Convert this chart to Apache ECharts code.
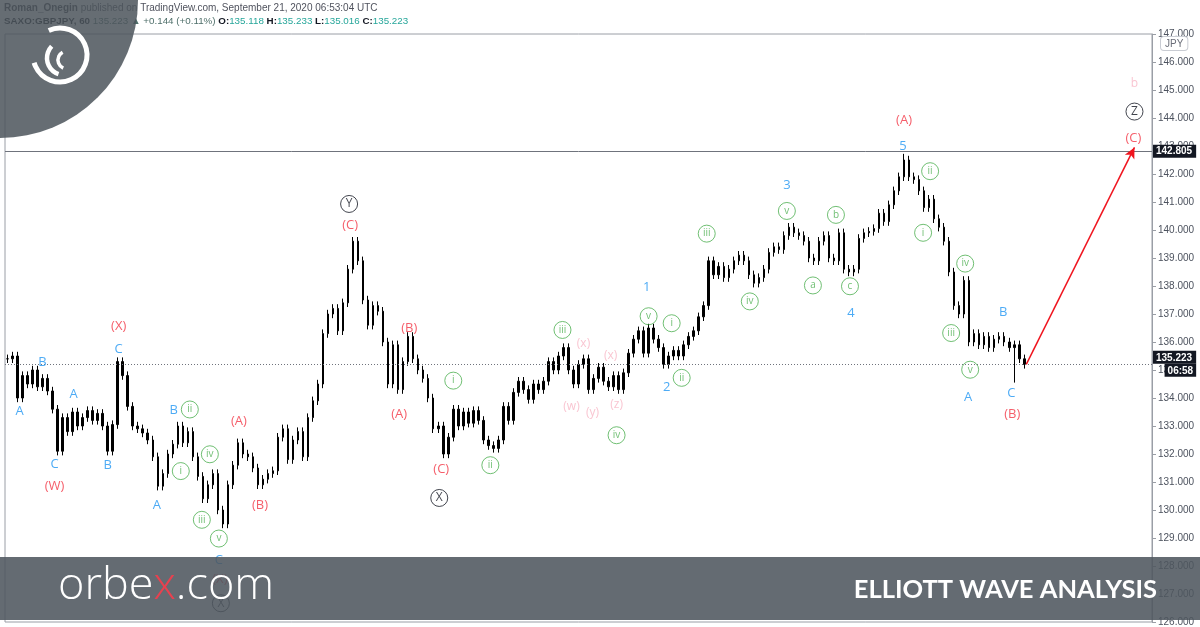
<!DOCTYPE html>
<html>
<head>
<meta charset="utf-8">
<script src="https://cdn.jsdelivr.net/npm/echarts@6/dist/echarts.min.js"></script>
<style>
  html, body { margin: 0; padding: 0; background: #fff; }
  #chart { width: 1200px; height: 627px; }
</style>
</head>
<body>
<div id="chart"></div>
<script>
/* ── Data (GBPJPY 60m, closes) ──────────────────────────── */
const closes = [
  135.4, 135.5, 134.0, 134.8, 134.5, 135.0, 134.4, 134.7, 134.25, 133.6,
  132.1, 133.3, 132.8, 133.5, 133.0, 133.3, 133.55, 133.2, 133.45, 133.0,
  132.1, 133.05, 135.3, 134.8, 133.7, 133.0, 132.9, 132.75, 132.5, 131.9,
  130.85, 131.3, 132.0, 132.35, 133.0, 132.4, 132.8, 131.9, 131.2, 130.4,
  130.9, 131.3, 130.0, 129.5, 130.9, 131.6, 132.4, 132.0, 131.9, 131.5,
  130.9, 131.1, 131.3, 131.4, 132.6, 132.9, 131.8, 132.5, 132.8, 131.9,
  133.3, 133.9, 134.5, 136.3, 137.0, 137.2, 136.4, 137.4, 138.6, 139.6,
  138.9, 137.5, 136.6, 137.3, 137.1, 136.0, 134.5, 135.9, 134.3, 135.3,
  136.2, 135.4, 135.0, 134.7, 134.0, 132.9, 133.0, 132.0, 132.6, 133.6,
  133.0, 133.5, 133.1, 133.55, 133.2, 132.5, 132.3, 132.2, 132.5, 133.7,
  133.2, 134.2, 134.6, 134.3, 133.95, 134.5, 134.3, 134.6, 135.3, 135.0,
  135.5, 135.8, 135.0, 134.5, 135.2, 135.4, 134.3, 134.7, 135.1, 134.6,
  134.4, 134.8, 134.3, 134.9, 135.6, 136.1, 136.4, 135.6, 136.5, 136.1,
  135.8, 135.2, 135.5, 135.7, 135.5, 135.9, 136.2, 136.4, 136.9, 137.3,
  138.9, 138.4, 138.7, 138.3, 138.6, 138.9, 139.1, 138.9, 138.4, 138.1,
  138.3, 138.6, 139.2, 139.4, 139.3, 139.8, 140.1, 139.9, 139.8, 139.6,
  139.0, 138.9, 139.6, 139.8, 139.0, 138.9, 139.9, 138.6, 138.5, 138.6,
  139.7, 139.9, 139.95, 140.05, 140.6, 140.3, 140.9, 141.4, 141.9, 142.5,
  141.9, 141.8, 141.4, 140.8, 141.1, 140.4, 140.1, 139.6, 138.5, 137.3,
  137.0, 138.2, 136.0, 136.3, 135.9, 136.2, 135.8, 136.1, 136.2, 136.0,
  135.8, 135.9, 135.4, 135.2
];
// long wicks that stick out of the close path
const spikeLows = { 43: 129.35, 201: 134.55 };
const spikeHighs = { 179: 142.72 };

const slotCount = 229;           // candles + empty room on the right
const yMin = 126, yMax = 147;
const resistance = 142.805;
const lastPrice = 135.223;

// wave labels: [slot, price, text]
const redLabels = [
  [9.4, 130.86, '(W)'], [22.2, 136.57, '(X)'], [42.4, 127.52, '(X)'],
  [46.2, 133.16, '(A)'], [50.4, 130.18, '(B)'], [68.4, 140.18, '(C)'],
  [78.2, 133.41, '(A)'], [80.2, 136.50, '(B)'], [86.6, 131.46, '(C)'],
  [179, 143.91, '(A)'], [200.6, 133.41, '(B)'], [224.8, 143.27, '(C)']
];
const blueLabels = [
  [2.4, 133.52, 'A'], [7.0, 135.26, 'B'], [9.4, 131.64, 'C'],
  [13.2, 134.12, 'A'], [20, 131.60, 'B'], [22.2, 135.75, 'C'],
  [29.8, 130.18, 'A'], [33.2, 133.55, 'B'], [42.2, 128.2, 'C'],
  [127.6, 137.95, '1'], [131.6, 134.37, '2'], [155.6, 141.60, '3'],
  [168.4, 137.03, '4'], [178.8, 142.99, '5'],
  [191.8, 134.01, 'A'], [198.8, 137.06, 'B'], [200.4, 134.16, 'C']
];
const pinkLabels = [
  [115, 135.93, '(x)'], [120.4, 135.50, '(x)'], [112.6, 133.70, '(w)'],
  [116.8, 133.48, '(y)'], [121.6, 133.77, '(z)'], [225, 145.22, 'b']
];
const greenLabels = [
  [34.6, 131.39, 'i'], [36.4, 133.59, 'ii'], [38.8, 129.65, 'iii'],
  [40.4, 131.99, 'iv'], [42.2, 128.98, 'v'],
  [89, 134.62, 'i'], [96.4, 131.60, 'ii'], [110.8, 136.43, 'iii'],
  [121.6, 132.67, 'iv'], [128, 136.92, 'v'],
  [132.6, 136.67, 'i'], [134.6, 134.72, 'ii'], [139.6, 139.87, 'iii'],
  [148.2, 137.45, 'iv'], [155.6, 140.68, 'v'],
  [160.8, 138.02, 'a'], [165.4, 140.54, 'b'], [168.2, 137.99, 'c'],
  [182.8, 139.90, 'i'], [184.2, 142.10, 'ii'], [188.4, 136.32, 'iii'],
  [191.2, 138.80, 'iv'], [192.2, 135.01, 'v']
];
const blackLabels = [
  [42.6, 126.67, 'X'], [68.2, 140.93, 'Y'], [86.2, 130.43, 'X'], [225, 144.23, 'Z']
];
// projected move: from the last candle to the (C) target
const arrowFrom = [203.4, 135.2];
const arrowTo = [225, 142.95];

/* ── Build ───────────────────────────────────────────────── */
const ohlc = closes.map((c, i) => {
  const o = i === 0 ? c : closes[i - 1];
  const lo = spikeLows[i] !== undefined ? spikeLows[i] : Math.min(o, c) - 0.15;
  const hi = spikeHighs[i] !== undefined ? spikeHighs[i] : Math.max(o, c) + 0.15;
  return [o, c, lo, hi];
});
const slots = Array.from({ length: slotCount }, (_, i) => String(i));

const FONT = '"Open Sans", "Noto Sans", sans-serif';
const UI_FONT = '"Liberation Sans", Arial, sans-serif';

function textSeries(list, color, size) {
  return {
    type: 'scatter', xAxisIndex: 1, symbolSize: 1, silent: true, z: 5,
    itemStyle: { color: 'transparent' },
    label: { show: true, position: 'inside', formatter: p => p.data[2],
      color, fontSize: size, fontFamily: FONT },
    data: list
  };
}
function circleSeries(list, color, size, fontSize) {
  return {
    type: 'scatter', xAxisIndex: 1, symbol: 'circle', symbolSize: size, silent: true, z: 5,
    itemStyle: { color: 'rgba(255,255,255,0)', borderColor: color, borderWidth: 1 },
    label: { show: true, position: 'inside', formatter: p => p.data[2],
      color, fontSize, fontFamily: FONT },
    data: list
  };
}

const chart = echarts.init(document.getElementById('chart'), null, { renderer: 'canvas' });

chart.setOption({
  animation: false,
  backgroundColor: '#fff',
  grid: { left: 5, right: 48, top: 34, bottom: 1, show: true,
    borderColor: '#9a9ea6', borderWidth: 1, backgroundColor: 'transparent' },
  xAxis: [
    { type: 'category', data: slots, boundaryGap: true, show: false },
    { type: 'value', min: -0.5, max: slotCount - 0.5, show: false }
  ],
  yAxis: {
    type: 'value', position: 'right', min: yMin, max: yMax, interval: 1,
    splitLine: { show: false },
    axisLine: { show: true, onZero: false, lineStyle: { color: '#9a9ea6' } },
    axisTick: { show: true, length: 4, lineStyle: { color: '#9a9ea6' } },
    axisLabel: {
      color: '#4c525e', fontSize: 10, fontFamily: UI_FONT, margin: 6,
      formatter: v => v.toFixed(3)
    }
  },
  series: [
    {
      type: 'candlestick', data: ohlc, barWidth: 2, silent: true,
      itemStyle: { color: '#000', color0: '#000', borderColor: '#000', borderColor0: '#000', borderWidth: 1 },
      markLine: {
        silent: true, symbol: 'none', animation: false,
        data: [
          { yAxis: resistance, lineStyle: { color: '#6f737c', width: 1, type: 'solid' },
            label: { show: true, position: 'end', distance: 1, formatter: resistance.toFixed(3),
              backgroundColor: '#131722', color: '#fff', fontSize: 10, fontWeight: 'bold',
              padding: [2, 4, 1, 3], fontFamily: UI_FONT } },
          { yAxis: lastPrice, lineStyle: { color: '#6f737c', width: 1, type: [1, 2] },
            label: { show: true, position: 'end', distance: 1,
              formatter: '{a|' + lastPrice.toFixed(3) + '}\n{b|06:58}',
              rich: {
                a: { backgroundColor: '#131722', color: '#fff', fontSize: 10, fontWeight: 'bold',
                  padding: [2, 4, 1, 3], fontFamily: UI_FONT },
                b: { backgroundColor: '#131722', color: '#fff', fontSize: 10, fontWeight: 'bold',
                  padding: [2, 3, 1, 3], align: 'right', fontFamily: UI_FONT }
              } } }
        ]
      }
    },
    {
      type: 'line', xAxisIndex: 1, data: [], silent: true,
      markLine: {
        silent: true, symbol: ['none', 'arrow'], symbolSize: [8, 11], animation: false,
        lineStyle: { color: '#f0141e', width: 1.5, type: 'solid' },
        label: { show: false },
        data: [[{ coord: arrowFrom }, { coord: arrowTo }]]
      }
    },
    textSeries(redLabels, '#f23645', 13),
    textSeries(blueLabels, '#2196f3', 13),
    textSeries(pinkLabels, '#f8b7c6', 12),
    circleSeries(greenLabels, '#4caf50', 17, 10),
    circleSeries(blackLabels, '#131722', 17, 12)
  ],
  graphic: [
    { type: 'text', left: 4, top: 3, z: 90,
      style: { text: '{b|Roman_Onegin} published on TradingView.com, September 21, 2020 06:53:04 UTC',
        fill: '#50535e', fontSize: 10, fontFamily: UI_FONT,
        rich: { b: { fontWeight: 'bold', fill: '#3a3d46', fontSize: 10, fontFamily: UI_FONT } } } },
    { type: 'text', left: 4, top: 16, z: 90,
      style: { text: '{d|SAXO:GBPJPY, 60} {g|135.223 ▲ +0.144 (+0.11%)} {d|O:}{t|135.118} {d|H:}{t|135.233} {d|L:}{t|135.016} {d|C:}{t|135.223}',
        fontSize: 9.8, fontFamily: UI_FONT,
        rich: {
          d: { fontWeight: 'bold', fill: '#131722', fontSize: 9.8, fontFamily: UI_FONT },
          g: { fill: '#4f6f6a', fontSize: 9.8, fontFamily: UI_FONT },
          t: { fill: '#26a69a', fontSize: 9.8, fontFamily: UI_FONT }
        } } },
    { type: 'circle', z: 100, shape: { cx: 0, cy: 0, r: 138 },
      style: { fill: '#4d555c', opacity: 0.86 } },
    { type: 'arc', z: 101, shape: { cx: 60, cy: 55, r: 27, startAngle: -2.0, endAngle: 2.85, clockwise: true },
      style: { stroke: '#fff', lineWidth: 5, fill: null } },
    { type: 'arc', z: 101, shape: { cx: 64, cy: 58, r: 17, startAngle: 1.9, endAngle: 3.9, clockwise: true },
      style: { stroke: '#fff', lineWidth: 4.5, fill: null } },
    { type: 'arc', z: 101, shape: { cx: 67, cy: 60, r: 9, startAngle: 2.0, endAngle: 4.2, clockwise: true },
      style: { stroke: '#fff', lineWidth: 3.5, fill: null } },
    { type: 'rect', z: 100, shape: { x: 0, y: 557, width: 1200, height: 63 },
      style: { fill: 'rgba(78,86,94,0.88)' } },
    { type: 'text', z: 101, left: 58, top: 564,
      style: { text: '{w|orbe}{r|x}{w|.com}',
        rich: {
          w: { fill: '#fff', fontSize: 45, fontFamily: '"Open Sans", sans-serif', fontWeight: 300 },
          r: { fill: '#e8414f', fontSize: 45, fontFamily: '"Open Sans", sans-serif', fontWeight: 300 }
        } } },
    { type: 'text', z: 101, right: 43, top: 577,
      style: { text: 'ELLIOTT WAVE ANALYSIS', fill: '#fff', fontSize: 25.5,
        fontFamily: 'Lato, "Open Sans", sans-serif', fontWeight: 'bold' } },
    { type: 'text', z: 95, left: 1160, top: 36,
      style: { text: 'JPY', fill: '#6a6d78', fontSize: 10, fontFamily: UI_FONT,
        backgroundColor: '#fff', borderColor: '#c9ccd3', borderWidth: 1, borderRadius: 3, padding: [2, 4, 1, 4] } }
  ]
});
</script>
</body>
</html>
